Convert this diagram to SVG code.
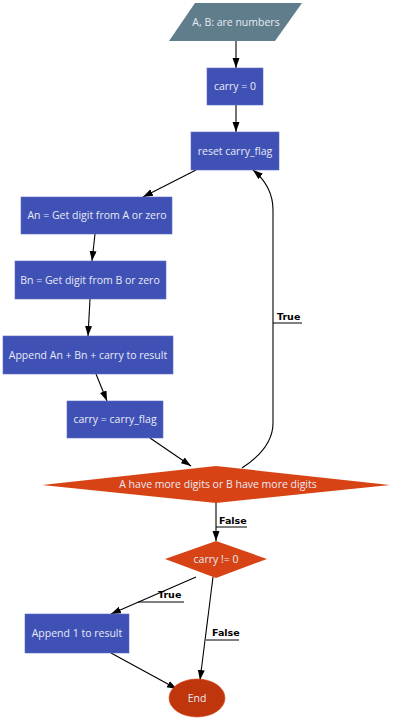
<svg xmlns="http://www.w3.org/2000/svg" width="400" height="726" viewBox="0 0 400 726">
<defs>
<marker id="arr" markerUnits="userSpaceOnUse" markerWidth="11" markerHeight="8" refX="10" refY="3.5" orient="auto">
<path d="M0,0 L10,3.5 L0,7 z" fill="#000"/>
</marker>
<style>
.box{fill:#3f51b5;stroke:#5c6bc0;stroke-width:0.6}
.dia{fill:#d84315}
.t{font-family:"Open Sans","DejaVu Sans",sans-serif;font-size:10.5px;fill:#e8eaf6;text-anchor:middle;dominant-baseline:central}
.e{fill:none;stroke:#000;stroke-width:1.1;marker-end:url(#arr)}
.lbl{font-family:"DejaVu Sans",sans-serif;font-size:9.5px;font-weight:bold;fill:#000}
.ul{stroke:#000;stroke-width:1;fill:none}
</style>
</defs>
<rect width="400" height="726" fill="#fff"/>
<g id="edges">
<path class="e" d="M236,41 L236,68"/>
<path class="e" d="M236,105 L236,132"/>
<path class="e" d="M196,170 L143,197"/>
<path class="e" d="M95,234 L92,261"/>
<path class="e" d="M90,299 L88,336"/>
<path class="e" d="M96,374 L107,401"/>
<path class="e" d="M150,438 L191,466"/>
<path class="e" d="M242,468 C262,455 273,440 273,423 L273,210 C273,194 265,180 253,170"/>
<path class="e" d="M216,503 L216,541"/>
<path class="e" d="M196,577 L111,614"/>
<path class="e" d="M213,577 L200,680"/>
<path class="e" d="M111,653 L177,689"/>
<text class="lbl" x="277" y="320">True</text>
<path class="ul" d="M273,323 L302,323"/>
<text class="lbl" x="219" y="524">False</text>
<path class="ul" d="M216,527 L247,527"/>
<text class="lbl" x="158" y="598">True</text>
<path class="ul" d="M138,602 L184,602"/>
<text class="lbl" x="212" y="636">False</text>
<path class="ul" d="M206,640 L239,640"/>
</g>
<g id="start"><polygon points="195,3 302,3 275,41 169,41" fill="#607d8b"/><text class="t" x="236" y="22">A, B: are numbers</text></g>
<g id="carry0"><rect class="box" x="207" y="68" width="56" height="37"/><text class="t" x="235" y="86">carry = 0</text></g>
<g id="reset"><rect class="box" x="191" y="132" width="88" height="38"/><text class="t" x="235" y="151">reset carry_flag</text></g>
<g id="an"><rect class="box" x="21" y="197" width="151" height="37"/><text class="t" x="97" y="215">An = Get digit from A or zero</text></g>
<g id="bn"><rect class="box" x="15" y="261" width="151" height="38"/><text class="t" x="90" y="280">Bn = Get digit from B or zero</text></g>
<g id="append"><rect class="box" x="3" y="336" width="170" height="38"/><text class="t" x="88" y="355">Append An + Bn + carry to result</text></g>
<g id="carryflag"><rect class="box" x="67" y="401" width="96" height="37"/><text class="t" x="115" y="419">carry = carry_flag</text></g>
<g id="cond"><polygon class="dia" points="216,466 390,485 216,503 42,485"/><text class="t" x="218" y="484">A have more digits or B have more digits</text></g>
<g id="carrync"><polygon class="dia" points="216,541 267,559 216,578 165,559"/><text class="t" x="216" y="559">carry != 0</text></g>
<g id="append1"><rect class="box" x="25" y="614" width="104" height="39"/><text class="t" x="77" y="633">Append 1 to result</text></g>
<g id="end"><ellipse cx="197" cy="698" rx="28" ry="19" fill="#bf360c" stroke="#d84315" stroke-width="0.6"/><text class="t" x="197" y="698">End</text></g>
</svg>
